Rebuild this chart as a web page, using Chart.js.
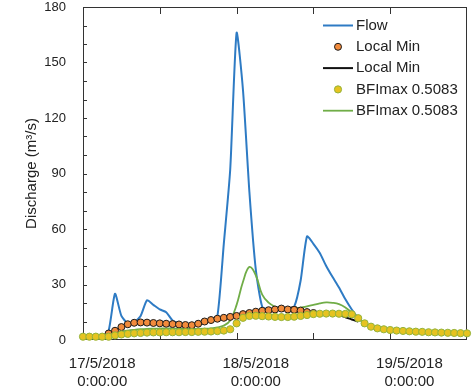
<!DOCTYPE html>
<html>
<head>
<meta charset="utf-8">
<script src="https://cdn.jsdelivr.net/npm/chart.js@4.4.1/dist/chart.umd.min.js"></script>
<style>
  html, body { margin: 0; padding: 0; background: #fff; }
</style>
</head>
<body>
<canvas id="chartFlow" width="474" height="387"></canvas>
<script>
// hourly steps, 16/5/2018 21:00 -> 19/5/2018 9:00
const times = [
  '16/5/2018 21:00:00', '16/5/2018 22:00:00', '16/5/2018 23:00:00',
  '17/5/2018 0:00:00', '17/5/2018 1:00:00', '17/5/2018 2:00:00', '17/5/2018 3:00:00',
  '17/5/2018 4:00:00', '17/5/2018 5:00:00', '17/5/2018 6:00:00', '17/5/2018 7:00:00',
  '17/5/2018 8:00:00', '17/5/2018 9:00:00', '17/5/2018 10:00:00', '17/5/2018 11:00:00',
  '17/5/2018 12:00:00', '17/5/2018 13:00:00', '17/5/2018 14:00:00', '17/5/2018 15:00:00',
  '17/5/2018 16:00:00', '17/5/2018 17:00:00', '17/5/2018 18:00:00', '17/5/2018 19:00:00',
  '17/5/2018 20:00:00', '17/5/2018 21:00:00', '17/5/2018 22:00:00', '17/5/2018 23:00:00',
  '18/5/2018 0:00:00', '18/5/2018 1:00:00', '18/5/2018 2:00:00', '18/5/2018 3:00:00',
  '18/5/2018 4:00:00', '18/5/2018 5:00:00', '18/5/2018 6:00:00', '18/5/2018 7:00:00',
  '18/5/2018 8:00:00', '18/5/2018 9:00:00', '18/5/2018 10:00:00', '18/5/2018 11:00:00',
  '18/5/2018 12:00:00', '18/5/2018 13:00:00', '18/5/2018 14:00:00', '18/5/2018 15:00:00',
  '18/5/2018 16:00:00', '18/5/2018 17:00:00', '18/5/2018 18:00:00', '18/5/2018 19:00:00',
  '18/5/2018 20:00:00', '18/5/2018 21:00:00', '18/5/2018 22:00:00', '18/5/2018 23:00:00',
  '19/5/2018 0:00:00', '19/5/2018 1:00:00', '19/5/2018 2:00:00', '19/5/2018 3:00:00',
  '19/5/2018 4:00:00', '19/5/2018 5:00:00', '19/5/2018 6:00:00', '19/5/2018 7:00:00',
  '19/5/2018 8:00:00', '19/5/2018 9:00:00'
];

const labelIndex = [3, 27, 51];      // categories that get a label
const tickIndex = [12, 24, 36, 48];  // inner tick marks on x
const yTicks = [0, 30, 60, 90, 120, 150, 180];

const flow = [
  1.8, 1.8, 1.8, 2.2, 5, 25, 13, 9, 9.5, 13, 21.5, 19, 16.5, 15, 10.5, 9,
  8.3, 8.3, 9.2, 10.3, 11, 13, 52, 92, 166, 135, 80, 38, 18, 16.3, 16.7, 17.2,
  17, 18, 32, 56, 52, 47, 40, 34, 28.4, 22, 16.5, 12, 9, 7.2, 6.3, 5.8,
  5.4, 5.1, 4.9, 4.7, 4.5, 4.4, 4.2, 4.1, 4, 3.9, 3.8, 3.7, 3.6
];

const localMinPts = [
  null, null, null, null, 3.5, 5, 7, 8.5, 9.3, 9.5, 9.4, 9.2, 9, 8.8, 8.6, 8.4,
  8.1, 8, 8.8, 10, 10.8, 11.5, 12, 12.5, 13, 14, 14.6, 15.3, 15.8, 16.1, 16.5, 17,
  16.5, 16.3, 15.9, 15.1, 14.6
];

const localMinLine = [
  null, null, null, null, 3.5, 5, 7, 8.5, 9.3, 9.5, 9.4, 9.2, 9, 8.8, 8.6, 8.4,
  8.1, 8, 8.8, 10, 10.8, 11.5, 12, 12.5, 13, 14, 14.6, 15.3, 15.8, 16.1, 16.5, 17,
  16.8, 17.8, 16.2, 15.3, 14.9, 14.7, 14.4, 14.1, 13.4, 12.3, 11.1, 10
];

const bfiPts = [
  1.8, 1.8, 1.8, 1.8, 1.8, 2.5, 3, 3.3, 3.6, 3.8, 4, 4.1, 4.1, 4.2, 4.2, 4.2,
  4.3, 4.3, 4.4, 4.5, 4.6, 4.8, 5.1, 5.8, 9, 12, 13, 13.1, 12.9, 12.7, 12.5, 12.4,
  12.4, 12.6, 13, 13.5, 14, 14.2, 14.3, 14.3, 14.2, 14.1, 13.9, 11.8, 9, 7.2, 6.3, 5.8,
  5.4, 5.1, 4.9, 4.7, 4.5, 4.4, 4.2, 4.1, 4, 3.9, 3.8, 3.7, 3.6
];

const bfiLine = [
  1.8, 1.8, 1.8, 1.8, 2.2, 3.5, 4.5, 5.1, 5.5, 5.8, 6, 6.1, 6.2, 6.2, 6.2, 6.1,
  6, 6, 6, 6.1, 6.3, 6.8, 7.8, 10.5, 19, 31.5, 39.5, 35, 24.5, 20.2, 18, 17,
  16.8, 17, 17.5, 18.2, 19, 19.8, 20.3, 20.1, 19.4, 17.6, 14.8, 11.9, 9, 7.2, 6.3, 5.8,
  5.4, 5.1, 4.9, 4.7, 4.5, 4.4, 4.2, 4.1, 4, 3.9, 3.8, 3.7, 3.6
];

Chart.defaults.font.family = '"Liberation Sans", Arial, sans-serif';
Chart.defaults.color = '#222';

// frame + inward tick marks like the Excel original
const frameTicks = {
  id: 'frameTicks',
  beforeDatasetsDraw(chart) {
    const {ctx, chartArea: a, scales: {x, y}} = chart;
    ctx.save();
    ctx.strokeStyle = '#333';
    ctx.lineWidth = 1;
    ctx.strokeRect(a.left + 0.5, a.top + 0.5, a.right - a.left - 1, a.bottom - a.top - 1);
    ctx.beginPath();
    tickIndex.forEach(i => {
      const px = Math.round(x.getPixelForValue(i)) + 0.5;
      ctx.moveTo(px, a.bottom);
      ctx.lineTo(px, a.bottom - 7);
      ctx.moveTo(px, a.top);
      ctx.lineTo(px, a.top + 7);
    });
    for (let v = 10; v < 180; v += 10) {
      const py = Math.round(y.getPixelForValue(v)) + 0.5;
      ctx.moveTo(a.left, py);
      ctx.lineTo(a.left + 4, py);
    }
    ctx.stroke();
    ctx.restore();
  }
};

// legend sits inside the plot, top right
const innerLegend = {
  id: 'innerLegend',
  afterDraw(chart) {
    const {ctx, chartArea: a} = chart;
    ctx.save();
    ctx.font = '15px "Liberation Sans", Arial, sans-serif';
    ctx.textBaseline = 'middle';
    chart.data.datasets.forEach((ds, i) => {
      const yy = a.top + 18.5 + i * 21.3;
      const cx = a.right - 129;
      if (ds.showLine === false) {
        ctx.beginPath();
        ctx.arc(cx, yy, ds.pointRadius, 0, Math.PI * 2);
        ctx.fillStyle = ds.pointBackgroundColor;
        ctx.fill();
        ctx.lineWidth = ds.pointBorderWidth;
        ctx.strokeStyle = ds.pointBorderColor;
        ctx.stroke();
      } else {
        ctx.beginPath();
        ctx.moveTo(cx - 15, yy);
        ctx.lineTo(cx + 15, yy);
        ctx.lineWidth = ds.borderWidth;
        ctx.strokeStyle = ds.borderColor;
        ctx.stroke();
      }
      ctx.fillStyle = '#222';
      ctx.fillText(ds.label, a.right - 111, yy);
    });
    ctx.restore();
  }
};

const ctx_flow = document.getElementById('chartFlow');

new Chart(ctx_flow, {
  type: 'line',
  data: {
    labels: times,
    datasets: [{
      label: 'Flow',
      data: flow,
      borderColor: '#2e7bc4',
      borderWidth: 2,
      pointRadius: 0,
      tension: 0.2,
      clip: false,
      order: 5
    },
    {
      label: 'Local Min',
      data: localMinPts,
      showLine: false,
      pointRadius: 3.5,
      pointBackgroundColor: '#f28b3c',
      pointBorderColor: '#1a1a1a',
      pointBorderWidth: 1,
      clip: false,
      order: 2
    },
    {
      label: 'Local Min',
      data: localMinLine,
      borderColor: '#111111',
      borderWidth: 2,
      pointRadius: 0,
      tension: 0.4,
      clip: false,
      order: 4
    },
    {
      label: 'BFImax 0.5083',
      data: bfiPts,
      showLine: false,
      pointRadius: 3.6,
      pointBackgroundColor: '#e6c320',
      pointBorderColor: '#93b33b',
      pointBorderWidth: 1,
      clip: false,
      order: 1
    },
    {
      label: 'BFImax 0.5083',
      data: bfiLine,
      borderColor: '#70ad47',
      borderWidth: 1.8,
      pointRadius: 0,
      tension: 0.4,
      clip: false,
      order: 3
    }
    ]
  },
  options: {
    responsive: false,
    animation: false,
    layout: {
      padding: { left: 0, right: 7, top: 7, bottom: 0 }
    },
    scales: {
      x: {
        offset: false,
        grid: { display: false, drawTicks: false },
        border: { display: false },
        ticks: {
          autoSkip: false,
          maxRotation: 0,
          padding: 15,
          font: { size: 15, lineHeight: 1.2 },
          callback: function(value, index) {
            return labelIndex.includes(index) ? times[index].split(' ') : '';
          }
        },
        afterFit: function(scale) {
          scale.height = 47;
          scale.paddingLeft = 0;
          scale.paddingRight = 0;
        }
      },
      y: {
        min: 0,
        max: 180,
        afterBuildTicks: function(scale) {
          scale.ticks = yTicks.map(v => ({ value: v }));
        },
        grid: { display: false, drawTicks: false },
        border: { display: false },
        ticks: {
          padding: 17,
          font: { size: 13 }
        },
        title: {
          display: true,
          text: 'Discharge (m³/s)',
          font: { size: 15 },
          padding: { top: 23, bottom: 0 }
        },
        afterFit: function(scale) {
          scale.width = 83;
          scale.paddingTop = 0;
          scale.paddingBottom = 0;
        }
      }
    },
    plugins: {
      legend: { display: false },
      tooltip: { enabled: false }
    }
  },
  plugins: [frameTicks, innerLegend]
});
</script>
</body>
</html>
